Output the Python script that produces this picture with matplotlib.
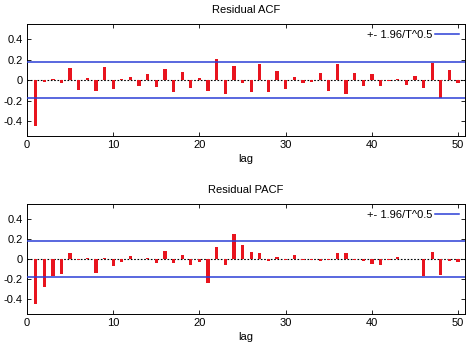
import numpy as np
import matplotlib
matplotlib.use("Agg")
import matplotlib.pyplot as plt

plt.rcParams['font.family'] = ['Liberation Sans', 'DejaVu Sans']

# residual correlations, lags 1..50
lags = np.arange(1, 51)
acf = [-0.45, -0.02, 0.01, -0.03, 0.12, -0.10, 0.025, -0.105, 0.13, -0.085,
       0.015, 0.035, -0.06, 0.055, -0.07, 0.11, -0.12, 0.075, -0.08, 0.025,
       -0.11, 0.21, -0.135, 0.14, -0.025, -0.115, 0.155, -0.12, 0.09, -0.09,
       0.035, -0.03, -0.02, 0.065, -0.11, 0.16, -0.13, 0.065, -0.055, 0.055,
       -0.055, -0.005, 0.01, -0.045, 0.045, -0.08, 0.17, -0.175, 0.10, -0.025]
pacf = [-0.45, -0.28, -0.165, -0.15, 0.055, -0.005, 0.005, -0.14, 0.01, -0.07,
        -0.03, 0.025, 0.0, 0.01, -0.04, 0.08, -0.04, 0.035, -0.06, -0.025,
        -0.24, 0.12, -0.055, 0.245, 0.14, 0.07, 0.06, -0.015, 0.02, -0.005,
        0.035, -0.01, -0.01, -0.02, -0.01, 0.06, 0.06, -0.01, -0.02, -0.045,
        -0.06, -0.01, 0.02, 0.0, 0.0, -0.165, 0.07, -0.155, -0.015, -0.025]
band = 0.175
titles = ["Residual ACF", "Residual PACF"]
legend_label = "+- 1.96/T^0.5"

red = "#e8141e"
blue = "#2b3fd6"
fs = 8

fig = plt.figure(figsize=(4.74, 3.5), dpi=100)
ax1 = fig.add_axes([0.057, 0.611, 0.924, 0.32])
ax2 = fig.add_axes([0.057, 0.103, 0.924, 0.314])

for ax, vals, title in [(ax1, acf, titles[0]), (ax2, pacf, titles[1])]:
    ax.bar(lags, vals, width=0.38, color=red, zorder=2)
    ax.axhline(0, color="black", lw=0.8, ls=(0, (1.5, 1.5)), zorder=1)
    ax.axhline(band, color=blue, lw=1.1, label=legend_label, zorder=3)
    ax.axhline(-band, color=blue, lw=1.1, zorder=3)
    ax.set_xlim(0, 50.8)
    ax.set_ylim(-0.545, 0.545)
    ax.set_xticks([0, 10, 20, 30, 40, 50])
    ax.set_yticks([-0.4, -0.2, 0, 0.2, 0.4])
    ax.set_yticklabels(["-0.4", "-0.2", "0", "0.2", "0.4"])
    ax.tick_params(direction="in", top=True, right=True, labelsize=fs,
                   length=3, width=0.6, pad=3)
    for s in ax.spines.values():
        s.set_linewidth(0.7)
    ax.set_title(title, fontsize=fs, pad=8)
    ax.set_xlabel("lag", fontsize=fs, labelpad=3)
    ax.legend(loc="upper right", frameon=False, fontsize=fs, markerfirst=False,
              handlelength=2.2, handletextpad=0.2, borderaxespad=0.1)

fig.savefig("out.png", dpi=100)
